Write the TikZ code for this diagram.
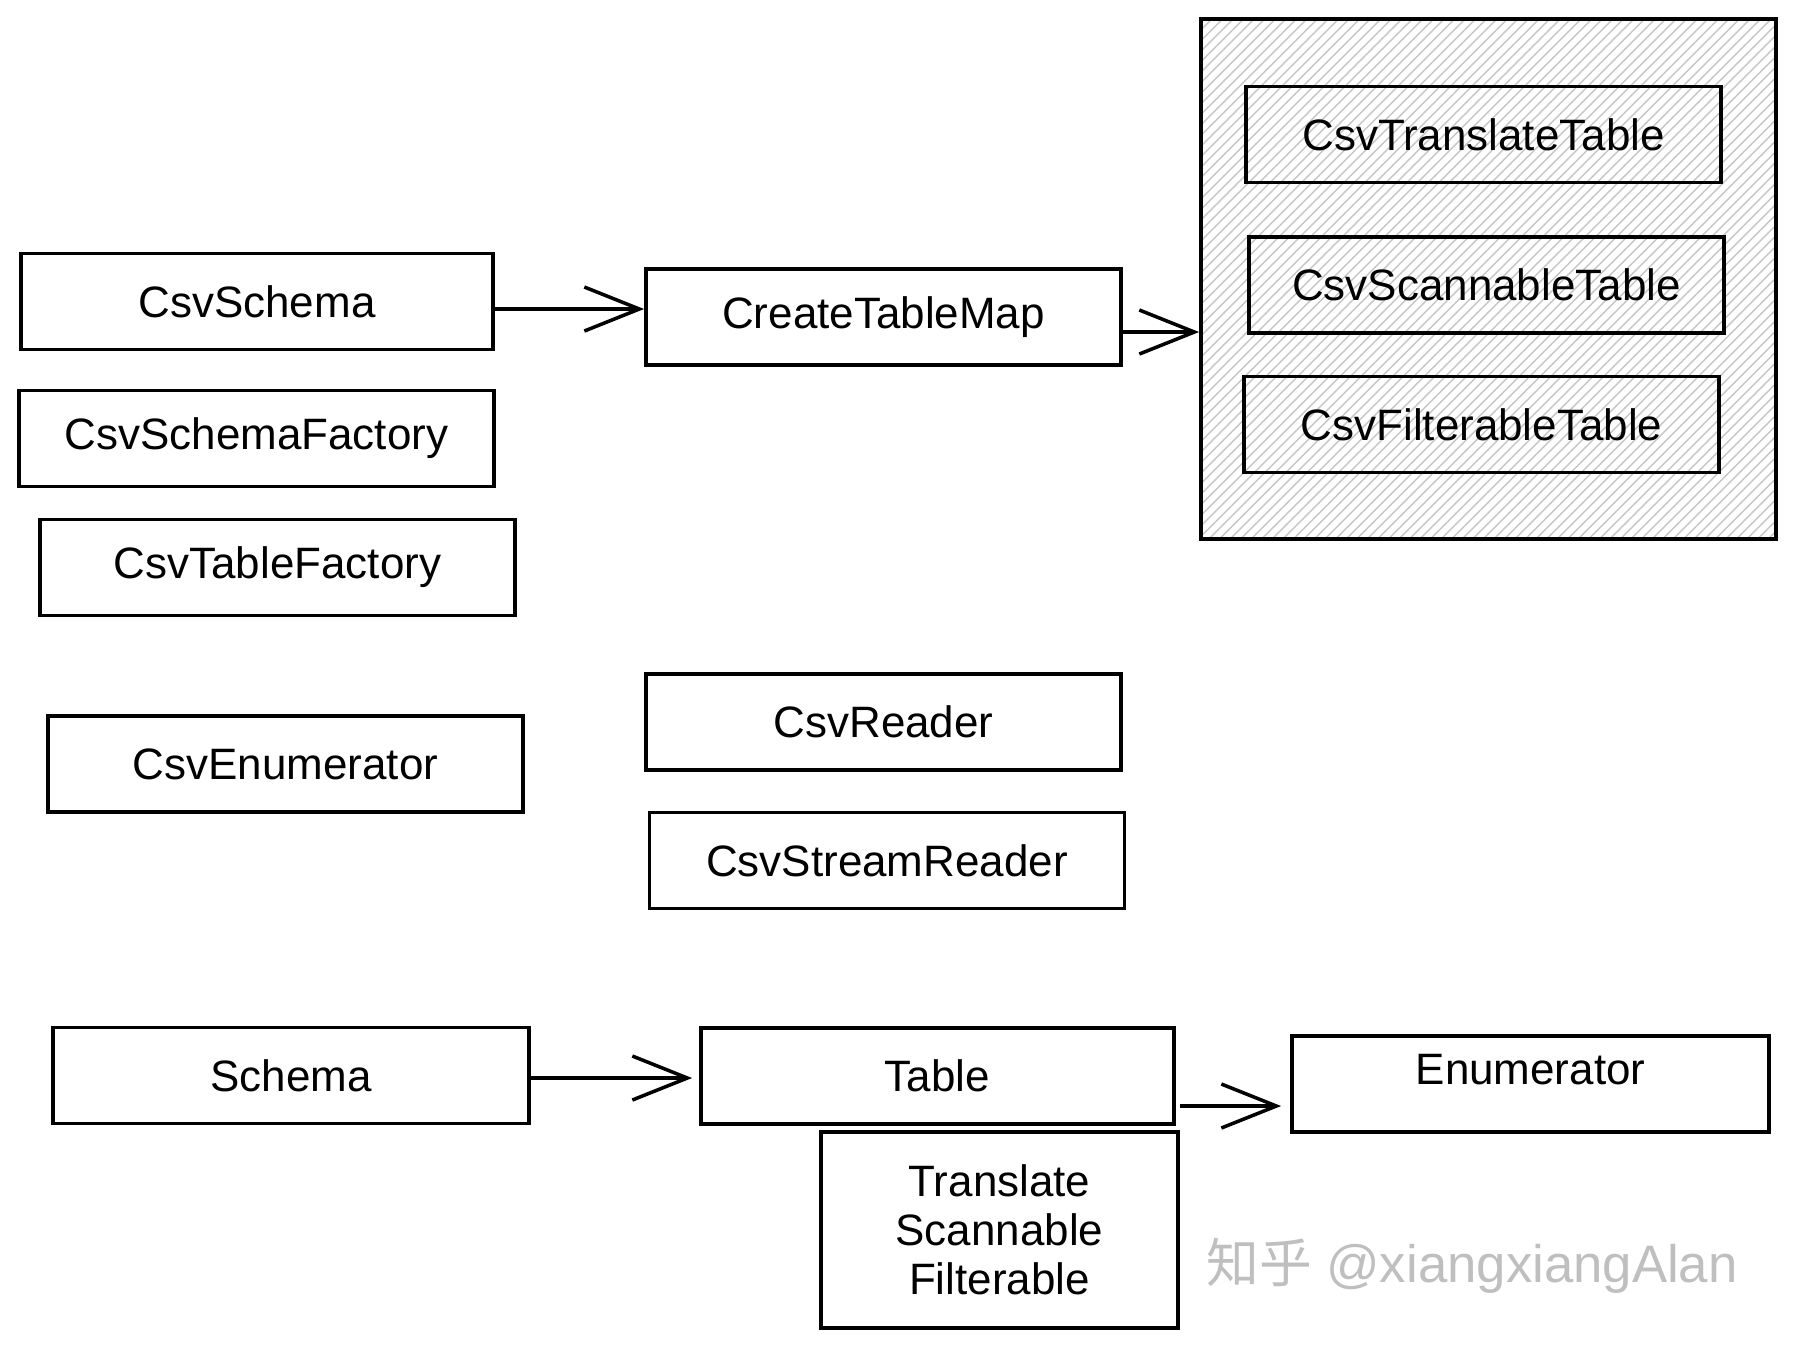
\documentclass[tikz,border=0pt]{standalone}
\usepackage{fontspec}
\setmainfont{Liberation Sans}
\newfontfamily\cjk{Noto Sans CJK SC}
\usetikzlibrary{arrows.meta,patterns}
\tikzset{
  cls/.style={draw,line width=1pt,minimum width=4.75cm,minimum height=0.96cm,
    font=\fontsize{12.5}{14}\selectfont},
  arr/.style={line width=1pt,-{Straight Barb[length=5.5mm,width=4.4mm]}},
}

\begin{document}
\begin{tikzpicture}[x=0.01cm,y=-0.01cm]
  \useasboundingbox (0,0) rectangle (1793,1347);
  % hatched group of csv tables
  \node[draw,line width=1pt,pattern=north east lines,pattern color=gray!45,
    minimum width=5.75cm,minimum height=5.2cm] (tables) at (1488.5,279) {};
  \node[cls] (translatetable) at (1483.5,134.5) {CsvTranslateTable};
  \node[cls] (scannabletable) at (1486.5,285) {CsvScannableTable};
  \node[cls] (filterabletable) at (1481.5,424.5) {CsvFilterableTable};
  % csv classes
  \node[cls,minimum width=4.72cm] (csvschema) at (257,301.5) {CsvSchema};
  \node[cls] (schemafactory) at (256.5,438.5) {CsvSchemaFactory};
  \node[cls] (tablefactory) at (277.5,567.5) {CsvTableFactory};
  \node[cls] (createmap) at (883.5,317) {CreateTableMap};
  \node[cls] (csvenum) at (285.5,764) {CsvEnumerator};
  \node[cls] (csvreader) at (883.5,722) {CsvReader};
  \node[cls] (streamreader) at (887,860.5) {CsvStreamReader};
  % core interfaces
  \node[cls,minimum width=4.76cm] (schema) at (291,1075.5) {Schema};
  \node[cls,minimum width=4.73cm] (table) at (937.5,1076) {Table};
  \node[cls,minimum width=4.77cm,text depth=0.3cm] (enumerator) at (1530.5,1084) {Enumerator};
  \node[cls,align=center,minimum width=3.57cm,minimum height=1.96cm] (kinds) at (999.5,1230)
    {Translate\\Scannable\\Filterable};
  % arrows
  \draw[arr] ([yshift=-0.075cm]csvschema.east) coordinate (a1) -- (createmap.west |- a1);
  \draw[arr] ([yshift=-0.15cm]createmap.east) coordinate (a2) -- (tables.west |- a2);
  \draw[arr,shorten >=0.07cm] ([yshift=-0.025cm]schema.east) coordinate (a3) -- (table.west |- a3);
  \draw[arr,shorten >=0.09cm] ([yshift=-0.3cm,xshift=0.04cm]table.east) coordinate (a4) -- (enumerator.west |- a4);
  % watermark
  \node[text=gray!50,font=\fontsize{15}{18}\selectfont] (watermark) at (1472,1266)
    {{\cjk 知乎} @xiangxiangAlan};
\end{tikzpicture}
\end{document}
